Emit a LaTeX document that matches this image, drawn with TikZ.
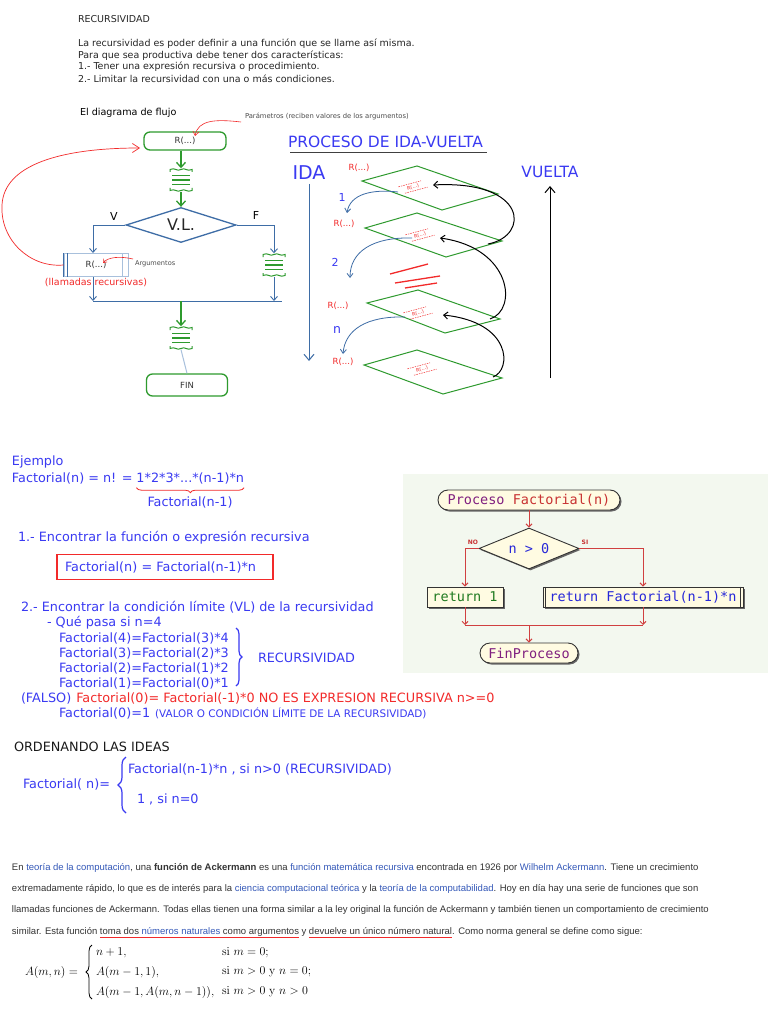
\documentclass[tikz,border=0pt]{standalone}
\usepackage[no-math]{fontspec}
\usepackage{amsmath}
\setmainfont{DejaVu Sans}
\newfontfamily\arialf{Liberation Sans}
\newfontfamily\monof{DejaVu Sans Mono}
\usetikzlibrary{arrows.meta,shapes.geometric,shadows,calc,decorations.pathreplacing}
\definecolor{tblue}{HTML}{3A3AF2}
\definecolor{tred}{HTML}{F22A2A}
\definecolor{fgreen}{HTML}{2E9A2E}
\definecolor{fblue}{HTML}{3E6DA6}
\definecolor{lblue}{HTML}{A8C0DC}
\definecolor{bgmint}{HTML}{F3F8EF}
\definecolor{cream}{HTML}{FFFBE2}
\definecolor{purp}{HTML}{802080}
\definecolor{pred}{HTML}{C83232}
\definecolor{plin}{HTML}{D04040}
\definecolor{linkb}{HTML}{3458B8}
\definecolor{ptxt}{HTML}{333333}
\definecolor{pgreen}{HTML}{207A20}
\definecolor{pblue}{HTML}{2828D8}
\tikzset{
  T/.style={anchor=west, inner sep=0pt, outer sep=0pt},
  topt/.style={T, font=\fontsize{9.5}{11}\selectfont, text=black!85},
  bt/.style={T, font=\fontsize{12.8}{15}\selectfont, text=tblue},
  rt/.style={T, font=\fontsize{12.8}{15}\selectfont, text=tred},
  acktxt/.style={T, font=\arialf\fontsize{9.5}{11}\selectfont, text=ptxt},
  mth/.style={T, font=\fontsize{11.5}{13}\selectfont},
  gbox/.style={draw=fgreen, line width=1.3pt, rounded corners=6pt, minimum width=82pt, minimum height=18pt, inner sep=0pt, font=\fontsize{8.5}{9}\selectfont, text=black!80},
  garrow/.style={draw=fgreen, line width=1.3pt, -{Straight Barb[length=5pt,width=9pt]}},
  bline/.style={draw=fblue, line width=0.9pt},
  barrow/.style={bline, -{Straight Barb[length=4pt,width=7pt]}},
  stk/.style={minimum width=22pt, minimum height=23pt, inner sep=0pt},
  gstack/.pic={
    \draw[fgreen, line width=1pt] (-11,-8) -- (-11,-10.5) .. controls (-6,-13) and (-4,-8) .. (0,-10.5) .. controls (4,-13) and (6,-8) .. (11,-10.5) -- (11,-8);
    \draw[fgreen, line width=1pt] (-11,8) -- (-11,10.5) .. controls (-6,8) and (-4,13) .. (0,10.5) .. controls (4,8) and (6,13) .. (11,10.5) -- (11,8);
    \foreach \yy in {-4.5,0,4.5} \draw[fgreen, line width=1.4pt] (-9,\yy) -- (9,\yy);
  },
  rlab/.style={font=\fontsize{8.5}{9}\selectfont, text=tred, inner sep=0pt},
  minir/.style={rotate=15, font=\fontsize{5}{5}\selectfont, text=tred, inner sep=1.5pt},
  rdot/.style={tred, line width=0.5pt, dash pattern=on 1.5pt off 1pt},
  varrow/.style={black, line width=1pt, -{Straight Barb[length=4pt,width=7pt]}},
  iarrow/.style={fblue, line width=0.8pt, -{Straight Barb[length=4pt,width=6pt]}},
  pbox/.style={draw=black!80, line width=0.9pt, fill=cream, inner sep=0pt, minimum height=20pt, font=\monof\fontsize{13.5}{14}\selectfont, drop shadow={shadow xshift=1.5pt, shadow yshift=-1.5pt, fill=black!60, opacity=1}},
  pill/.style={pbox, rounded corners=10pt},
  parrow/.style={draw=plin, line width=1pt, -{Straight Barb[length=3pt,width=6pt]}},
  pline/.style={draw=plin, line width=1pt},
}
\begin{document}
\begin{tikzpicture}[x=1pt,y=-1pt]
\useasboundingbox (0,0) rectangle (768,1024);
\fill[white] (0,0) rectangle (768,1024);

% ---------- top text
\node[topt] (t0) at (78,19) {RECURSIVIDAD};
\node[topt] (t1) at (78,44) {La recursividad es poder definir a una función que se llame así misma.};
\node[topt] (t2) at (78,55.5) {Para que sea productiva debe tener dos características:};
\node[topt] (t3) at (78,67) {1.- Tener una expresión recursiva o procedimiento.};
\node[topt] (t4) at (78,78.5) {2.- Limitar la recursividad con una o más condiciones.};

% ---------- left flowchart
\node[T, font=\fontsize{9.6}{11}\selectfont] (dgf) at (80,113) {El diagrama de flujo};
\node[T, font=\fontsize{6.8}{7}\selectfont, text=black!70] (param) at (245,116) {Parámetros (reciben valores de los argumentos)};
\node[gbox] (r1) at (185,141) {R(...)};
\node[stk] (s1) at (181,180) {}; \pic at (181,180) {gstack};
\node[shape=diamond, draw=fblue, line width=1.3pt, aspect=3.1, minimum width=110pt, minimum height=35pt, inner sep=0pt, font=\fontsize{16}{17}\selectfont, text=black!85] (dv) at (181,225) {V.L.};
\node[font=\fontsize{11}{12}\selectfont, inner sep=0pt] (lv) at (114,216) {V};
\node[font=\fontsize{11}{12}\selectfont, inner sep=0pt] (lf) at (256,215) {F};
\node[draw=lblue, line width=1pt, minimum width=64pt, minimum height=23pt, inner sep=0pt, font=\fontsize{8.5}{9}\selectfont, text=black!80] (rb) at (96,265) {R(...)};
\draw[fblue, line width=1pt] (rb.north west) -- (rb.south west);
\draw[fblue, line width=1pt] ([xshift=4pt]rb.north west) -- ([xshift=4pt]rb.south west);
\draw[lblue, line width=1pt] ([xshift=-6pt]rb.north east) -- ([xshift=-6pt]rb.south east);
\node[T, font=\fontsize{6.6}{7}\selectfont, text=black!70] (argl) at (135,264) {Argumentos};
\node[font=\fontsize{9.5}{10}\selectfont, text=tred, inner sep=0pt] (llam) at (96,283) {(llamadas recursivas)};
\node[stk] (s2) at (274,265) {}; \pic at (274,265) {gstack};
\node[stk] (s3) at (181,338) {}; \pic at (181,338) {gstack};
\node[gbox, minimum width=81pt, minimum height=22pt] (fin) at (187,385) {FIN};
\coordinate (jl) at (93,301);
\coordinate (jr) at (282,301);

\draw[garrow] (r1.south -| s1) -- (s1.north);
\draw[garrow] (s1.south) -- (dv.north);
\draw[barrow] (dv.west) -| ([xshift=-3pt]rb.north);
\draw[barrow] (dv.east) -| (s2.north);
\draw[barrow] ([xshift=-3pt]rb.south) -- (jl);
\draw[barrow] (s2.south) -- (s2.south |- jl);
\draw[bline] (jl) -- (jr);
\draw[garrow] (s3.north |- jl) -- (s3.north);
\draw[lblue, line width=1pt] (s3.south) -- (fin.north);
\draw[tred, line width=0.7pt, -{Straight Barb[length=7pt,width=9pt]}] (rb.west) .. controls (30,268) and (0,240) .. (2,205) .. controls (4,165) and (60,148) .. (140,148);
\draw[tred, line width=0.6pt, -{Straight Barb[length=4pt,width=6pt]}] (241,122) .. controls (215,119) and (198,120) .. (195,136);
\draw[tred, line width=0.6pt, -{Straight Barb[length=3pt,width=5pt]}] (133,259) .. controls (120,256) and (108,257) .. (103,263);

% ---------- IDA-VUELTA
\node[T, font=\fontsize{15.5}{17}\selectfont, text=tblue] (pidv) at (288,142) {PROCESO DE IDA-VUELTA};
\draw[black!75, line width=1pt] (290,152.5) -- (487,152.5);
\node[font=\fontsize{19}{20}\selectfont, text=tblue, inner sep=0pt] (ida) at (309,173) {IDA};
\node[font=\fontsize{15.5}{17}\selectfont, text=tblue, inner sep=0pt] (vue) at (550,172) {VUELTA};
\coordinate (idaE) at (309,361);
\coordinate (vueS) at (550,378);
\draw[fblue, line width=1pt, -{Straight Barb[length=6pt,width=10pt]}] (ida.south |- 0,184) -- (idaE);
\draw[black, line width=1pt, -{Straight Barb[length=6pt,width=10pt]}] (vueS) -- (vue.south |- 0,186);

\draw[fgreen, line width=1pt] (362,181) -- (417,166) -- (498,194) -- (442,210) -- cycle;
\draw[fgreen, line width=1pt] (365,228) -- (417,213) -- (502,241) -- (446,257) -- cycle;
\draw[fgreen, line width=1pt] (367,303) -- (418,290) -- (500,319) -- (445,333) -- cycle;
\draw[fgreen, line width=1pt] (364,365) -- (417,350) -- (502,378) -- (443,394) -- cycle;

\node[rlab] (ra) at (359,168) {R(...)};
\node[rlab] (rbb) at (344,224) {R(...)};
\node[rlab] (rc) at (338,306) {R(...)};
\node[rlab] (rd) at (343,362) {R(...)};

\foreach \nm/\px/\py in {m1/413/187, m2/420/235, m3/418/313, m4/422/369}{
  \node[minir] (\nm) at (\px,\py) {R(...)};
  \draw[rdot] ($(\nm.north west)!-0.4!(\nm.north east)$) -- ($(\nm.north west)!1.1!(\nm.north east)$);
  \draw[rdot] ($(\nm.south west)!-0.1!(\nm.south east)$) -- ($(\nm.south west)!1.4!(\nm.south east)$);
}

\node[font=\fontsize{11}{12}\selectfont, text=tblue, inner sep=0pt] (n1) at (342,197) {1};
\node[font=\fontsize{11}{12}\selectfont, text=tblue, inner sep=0pt] (n2) at (335,262) {2};
\node[font=\fontsize{12.5}{13}\selectfont, text=tblue, inner sep=0pt] (nn) at (337,330) {n};

\draw[iarrow] (398,192) .. controls (372,189) and (350,194) .. (347,213);
\draw[iarrow] (412,238) .. controls (372,237) and (350,252) .. (350,278);
\draw[iarrow] (405,317) .. controls (366,316) and (345,330) .. (343,354);

\draw[tred, line width=1.3pt] (390,274) -- (428,264);
\draw[tred, line width=1.3pt] (395,283) -- (440,276);
\draw[tred, line width=1.3pt] (405,288) -- (437,283);

\draw[varrow] (488,244) .. controls (530,236) and (528,180) .. (433,185);
\draw[varrow] (490,319) .. controls (518,310) and (512,248) .. (440,238);
\draw[varrow] (493,377) .. controls (512,370) and (512,322) .. (443,315);

% ---------- Factorial text
\node[bt] (ej) at (12,462) {Ejemplo};
\node[bt] (fa1) at (12,478) {Factorial(n) = n! =};
\node[bt, anchor=base west] (fa2) at ([xshift=4pt]fa1.base east) {1*2*3*...*(n-1)*n};
\draw[tred, line width=0.8pt, decorate, decoration={brace, mirror, amplitude=5pt}] ([yshift=-4pt]fa2.south west) -- ([yshift=-4pt]fa2.south east);
\node[bt, anchor=center] (fa3) at (190,502) {Factorial(n-1)};
\node[bt] (p1) at (18,538) {1.- Encontrar la función o expresión recursiva};
\node[bt, draw=tred, line width=1.2pt, inner xsep=8pt, minimum height=25pt, text width=200pt, align=left] (rbox) at (57,567) {Factorial(n) = Factorial(n-1)*n};
\node[bt] (p2) at (21,607) {2.- Encontrar la condición límite (VL) de la recursividad};
\node[bt] (p3) at (47,623) {- Qué pasa si n=4};
\node[bt] (f4) at (59,638) {Factorial(4)=Factorial(3)*4};
\node[bt] (f3) at (59,653) {Factorial(3)=Factorial(2)*3};
\node[bt] (f2) at (59,668) {Factorial(2)=Factorial(1)*2};
\node[bt] (f1) at (59,683) {Factorial(1)=Factorial(0)*1};
\draw[tblue, line width=1.2pt, decorate, decoration={brace, amplitude=6pt}] (236,628) -- (236,686);
\node[bt] (recu) at (258,658) {RECURSIVIDAD};
\node[bt] (fal) at (21,698) {(FALSO)};
\node[rt, anchor=base west] (fal2) at ([xshift=5pt]fal.base east) {Factorial(0)= Factorial(-1)*0 NO ES EXPRESION RECURSIVA n>=0};
\node[bt] (f0) at (59,713) {Factorial(0)=1};
\node[T, anchor=base west, font=\fontsize{10.4}{11}\selectfont, text=tblue] (f0b) at ([xshift=5pt]f0.base east) {(VALOR O CONDICIÓN LÍMITE DE LA RECURSIVIDAD)};

\node[T, font=\fontsize{12.8}{15}\selectfont, text=black!90] (ord) at (14,747) {ORDENANDO LAS IDEAS};
\node[bt] (fn) at (23,784) {Factorial( n)=};
\draw[tblue, line width=1.2pt, decorate, decoration={brace, amplitude=8pt}] (126,813) -- (126,757);
\node[bt] (c1) at (128,769) {Factorial(n-1)*n , si n>0 (RECURSIVIDAD)};
\node[bt] (c2) at (137,799) {1 , si n=0};

% ---------- PSeInt flowchart
\fill[bgmint] (403,474) rectangle (768,673);
\node[pill, minimum width=182pt] (pf) at (529,500) {\textcolor{purp}{Proceso} \textcolor{pred}{Factorial(n)}};
\node[pbox, shape=diamond, aspect=2.4, minimum width=100pt, minimum height=41pt, text=pblue] (pd) at (529,548.5) {n > 0};
\node[pbox, minimum width=76pt, text=pgreen] (pr1) at (465,597) {return 1};
\node[pbox, minimum width=200pt, text=pblue] (pr2) at (643,597) {return Factorial(n-1)*n};
\draw[black!80, line width=0.9pt] ([xshift=3pt]pr2.north west) -- ([xshift=3pt]pr2.south west);
\draw[black!80, line width=0.9pt] ([xshift=-3pt]pr2.north east) -- ([xshift=-3pt]pr2.south east);
\node[pill, minimum width=98pt, text=purp] (pfin) at (529,653) {FinProceso};
\node[font=\bfseries\fontsize{6}{7}\selectfont, text=pred, inner sep=0pt] (pno) at (473,542) {NO};
\node[font=\bfseries\fontsize{6}{7}\selectfont, text=pred, inner sep=0pt] (psi) at (585,542) {SI};
\coordinate (pj1) at (465,625);
\coordinate (pj2) at (643,625);
\draw[parrow] (pf.south) -- (pd.north);
\draw[parrow] (pd.west) -| (pr1.north);
\draw[parrow] (pd.east) -| (pr2.north);
\draw[parrow] (pr1.south) -- (pj1);
\draw[parrow] (pr2.south) -- (pj2);
\draw[pline] (pj1) -- (pj2);
\draw[parrow] (pfin.north |- pj1) -- (pfin.north);

% ---------- Ackermann
\node[acktxt] (a1) at (12,868) {En \textcolor{linkb}{teoría de la computación}, una \textbf{función de Ackermann} es una \textcolor{linkb}{función matemática recursiva} encontrada en 1926 por \textcolor{linkb}{Wilhelm Ackermann}. Tiene un crecimiento};
\node[acktxt] (a2) at (12,889) {extremadamente rápido, lo que es de interés para la \textcolor{linkb}{ciencia computacional teórica} y la \textcolor{linkb}{teoría de la computabilidad}. Hoy en día hay una serie de funciones que son};
\node[acktxt] (a3) at (12,910) {llamadas funciones de Ackermann. Todas ellas tienen una forma similar a la ley original la función de Ackermann y también tienen un comportamiento de crecimiento};
\node[acktxt] (a4a) at (12,931) {similar. Esta función};
\node[acktxt, anchor=base west] (a4b) at ([xshift=2.6pt]a4a.base east) {toma dos \textcolor{linkb}{números naturales} como argumentos};
\node[acktxt, anchor=base west] (a4c) at ([xshift=2.6pt]a4b.base east) {y};
\node[acktxt, anchor=base west] (a4d) at ([xshift=2.6pt]a4c.base east) {devuelve un único número natural};
\node[acktxt, anchor=base west] (a4e) at (a4d.base east) {. Como norma general se define como sigue:};
\draw[tred, line width=1pt] ([yshift=-3pt]a4b.base west) -- ([yshift=-3pt]a4b.base east);
\draw[tred, line width=1pt] ([yshift=-3pt]a4d.base west) -- ([yshift=-3pt]a4d.base east);

\node[mth] (ackl) at (25,972) {$A(m,n) =$};
\draw[black, line width=0.8pt, decorate, decoration={brace, amplitude=6pt}] (92,999) -- (92,945);
\node[mth] (ar1) at (96,953) {$n+1,$};
\node[mth] (ar2) at (96,972) {$A(m-1,1),$};
\node[mth] (ar3) at (96,992) {$A(m-1,A(m,n-1)),$};
\node[mth] (ac1) at (222,953) {$\mathrm{si}\ m=0;$};
\node[mth] (ac2) at (222,972) {$\mathrm{si}\ m>0\ \mathrm{y}\ n=0;$};
\node[mth] (ac3) at (222,992) {$\mathrm{si}\ m>0\ \mathrm{y}\ n>0$};
\end{tikzpicture}
\end{document}
